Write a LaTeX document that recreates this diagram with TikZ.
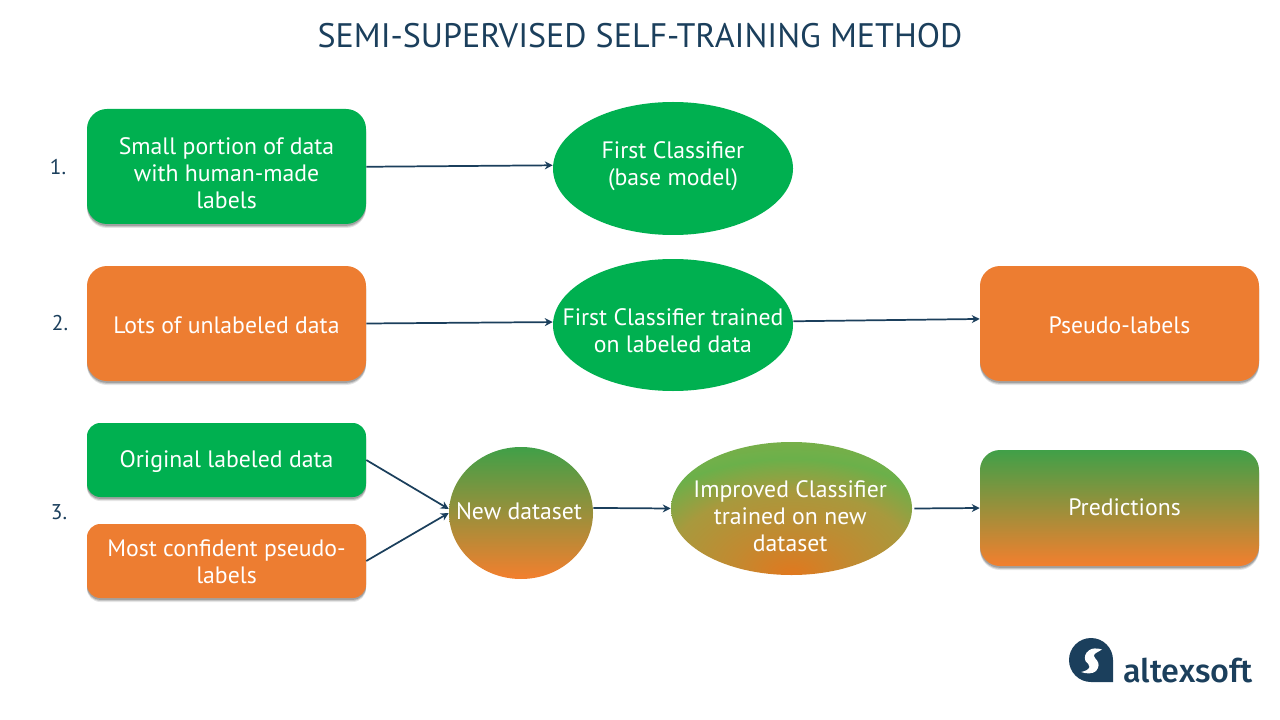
\documentclass[tikz,border=0pt]{standalone}
\usepackage{fontspec}
\setmainfont{PT Sans}
\newfontfamily\logofont{Fira Sans}[UprightFont=* Medium]
\usetikzlibrary{shapes.geometric,shadows,arrows.meta}
\definecolor{navy}{HTML}{1B3F5C}
\definecolor{grn}{HTML}{00B050}
\definecolor{org}{HTML}{ED7D31}
\definecolor{gradtop}{HTML}{40A048}
\definecolor{gradbot}{HTML}{F37F2E}
\pgfdeclareradialshading{improved}{\pgfpoint{0bp}{-25bp}}{%
  rgb(0bp)=(0.88,0.47,0.12);
  rgb(12bp)=(0.76,0.54,0.19);
  rgb(25bp)=(0.66,0.60,0.24);
  rgb(35bp)=(0.42,0.69,0.29);
  rgb(50bp)=(0.56,0.68,0.28);
  rgb(100bp)=(0.56,0.68,0.28)}
\tikzset{
  x=0.75pt,y=-0.75pt,
  txt/.style={text=white,font=\fontsize{17.8}{20.2}\selectfont,align=center,inner sep=0pt},
  softshadow/.style={
    general shadow={shadow xshift=0pt,shadow yshift=-3pt,fill=black,opacity=0.10},
    general shadow={shadow xshift=0pt,shadow yshift=-2.2pt,fill=black,opacity=0.14},
    general shadow={shadow xshift=0pt,shadow yshift=-1.4pt,fill=black,opacity=0.18}},
  rbox/.style 2 args={rectangle,rounded corners=15pt,inner sep=0pt,minimum width=#1*0.75pt,minimum height=#2*0.75pt,softshadow},
  sbox/.style 2 args={rectangle,rounded corners=10pt,inner sep=0pt,minimum width=#1*0.75pt,minimum height=#2*0.75pt,softshadow},
  oval/.style 2 args={ellipse,inner sep=0pt,minimum width=#1*0.75pt,minimum height=#2*0.75pt},
  gfill/.style={fill=grn},
  ofill/.style={fill=org},
  mixfill/.style={top color=gradtop,bottom color=gradbot},
  conn/.style={draw=navy,line width=1.3pt,-{Stealth[length=6pt,width=6pt]}},
  num/.style={text=navy,font=\fontsize{16}{19}\selectfont,inner sep=0pt}
}
\begin{document}
\begin{tikzpicture}
\useasboundingbox (0,0) rectangle (1280,720);
\node[text=navy,font=\fontsize{25.5}{30}\selectfont,inner sep=0pt] (title) at (640,36) {SEMI-SUPERVISED SELF-TRAINING METHOD};
\node[num] (n1) at (58,167) {1.};
\node[num] (n2) at (60,323) {2.};
\node[num] (n3) at (59,512) {3.};

\node[rbox={279}{115},gfill,label={[txt,yshift=-5.25pt]center:{Small portion of data\\with human-made\\labels}}] (a1) at (226.5,166.5) {};
\node[oval={240}{133},gfill,label={[txt,yshift=1.5pt]center:{First Classifier\\(base model)}}] (b1) at (673,168.5) {};

\node[rbox={279}{115},ofill,label={[txt,yshift=-1.5pt]center:{Lots of unlabeled data}}] (a2) at (226.5,323.5) {};
\node[oval={240}{132},gfill,label={[txt,yshift=-4.5pt]center:{First Classifier trained\\on labeled data}}] (b2) at (673,325) {};
\node[rbox={279}{115},ofill,label={[txt,yshift=-1.5pt]center:{Pseudo-labels}}] (c2) at (1119.5,323.5) {};

\node[sbox={279}{74},gfill,label={[txt,yshift=-1.5pt]center:{Original labeled data}}] (a3) at (226.5,460) {};
\node[sbox={279}{74},ofill,label={[txt,yshift=-0.75pt]center:{Most confident pseudo-\\labels}}] (a4) at (226.5,561) {};
\node[oval={144}{132},mixfill,label={[txt,yshift=1.5pt,xshift=-1.5pt]center:{New dataset}}] (d3) at (521,513) {};
\node[oval={241}{133},shading=improved,label={[txt,yshift=-6pt,xshift=-1pt]center:{Improved Classifier\\trained on new\\dataset}}] (e3) at (791.5,508.5) {};
\node[rbox={279}{116},mixfill,label={[txt,yshift=0.75pt,xshift=3.75pt]center:{Predictions}}] (f3) at (1119.5,508) {};

\draw[conn] ([yshift=-0.2pt]a1.east) -- ([yshift=2.4pt]b1.west);
\draw[conn] (a2.east) -- ([yshift=2.2pt]b2.west);
\draw[conn] ([yshift=2.8pt]b2.east) -- ([yshift=3.4pt]c2.west);
\draw[conn] (a3.east) -- ([yshift=3pt]d3.west);
\draw[conn] (a4.east) -- (d3.west);
\draw[conn] ([yshift=3.8pt]d3.east) -- (e3.west);
\draw[conn] ([xshift=1.5pt]e3.east) -- (f3.west);

% logo
\fill[navy] (1113,682) -- (1091,682) arc[start angle=-90,end angle=-360,radius=16.5pt] -- cycle;
\fill[white] (1102,649.5) .. controls (1097,648) and (1092,648) .. (1089.5,650)
  .. controls (1085,653) and (1084,657) .. (1085.5,661)
  .. controls (1087,664) and (1090,664) .. (1089.5,667)
  .. controls (1088.5,670) and (1085,671) .. (1081.2,672)
  .. controls (1086,674) and (1093,674) .. (1096,671)
  .. controls (1099.5,667) and (1099,663) .. (1097,660.5)
  .. controls (1094,657) and (1092.5,655) .. (1096,653)
  .. controls (1098,651.5) and (1100,651) .. (1102,649.5) -- cycle;
\node[text=navy,font=\logofont\fontsize{24.3}{28}\selectfont,anchor=base west,inner sep=0pt] (logo) at (1123,682) {altexsoft};
\end{tikzpicture}
\end{document}
